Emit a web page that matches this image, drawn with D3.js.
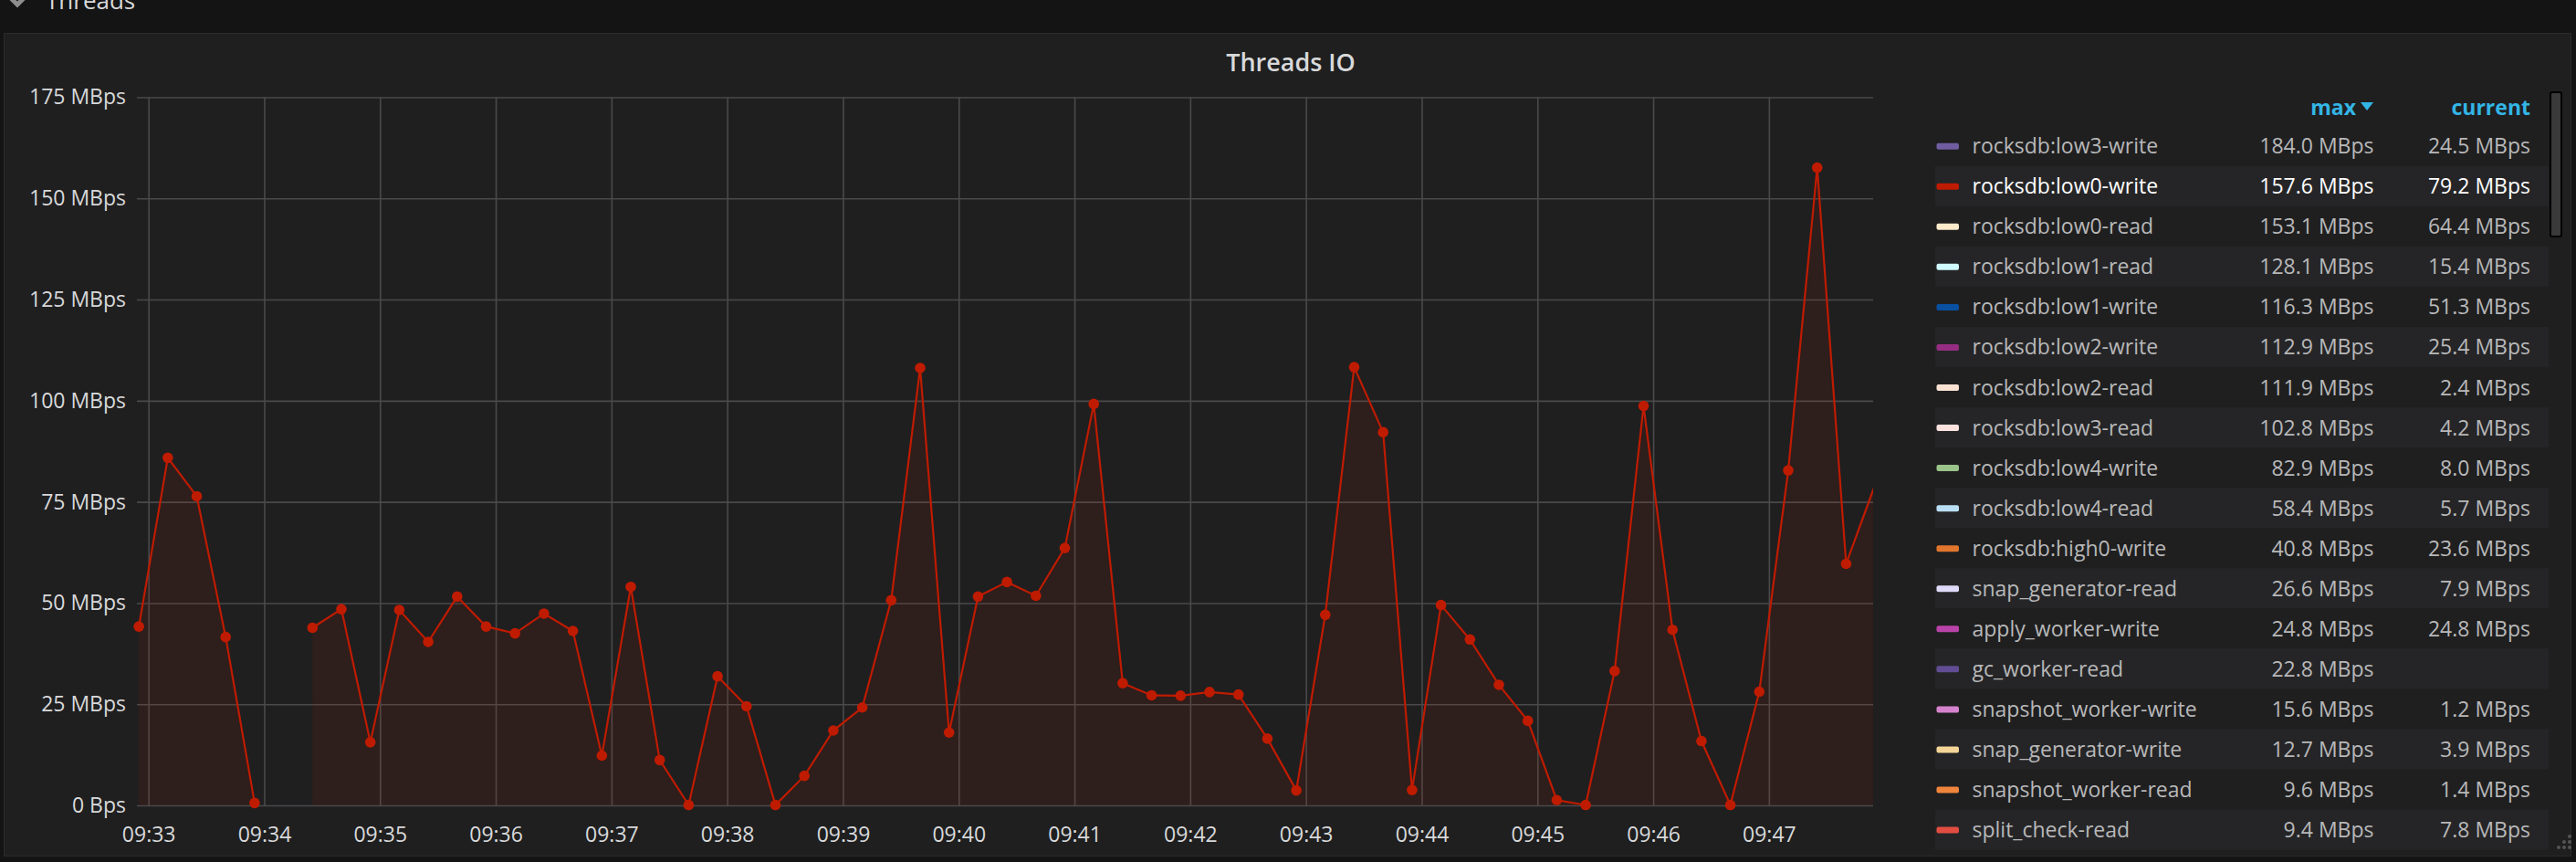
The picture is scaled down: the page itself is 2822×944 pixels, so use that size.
<!DOCTYPE html>
<html><head><meta charset="utf-8">
<script src="https://cdn.jsdelivr.net/npm/d3@7/dist/d3.min.js"></script>
<style>
body{margin:0;background:#141414;}
svg{display:block;font-family:"Open Sans",sans-serif;}
</style>
</head><body>
<svg id="c" width="2822" height="944"></svg>
<script>
// ---- data ----
const times = ["09:32:55","09:33:10","09:33:25","09:33:40","09:33:55","09:34:10","09:34:25","09:34:40","09:34:55","09:35:10",
"09:35:25","09:35:40","09:35:55","09:36:10","09:36:25","09:36:40","09:36:55","09:37:10","09:37:25","09:37:40",
"09:37:55","09:38:10","09:38:25","09:38:40","09:38:55","09:39:10","09:39:25","09:39:40","09:39:55","09:40:10",
"09:40:25","09:40:40","09:40:55","09:41:10","09:41:25","09:41:40","09:41:55","09:42:10","09:42:25","09:42:40",
"09:42:55","09:43:10","09:43:25","09:43:40","09:43:55","09:44:10","09:44:25","09:44:40","09:44:55","09:45:10",
"09:45:25","09:45:40","09:45:55","09:46:10","09:46:25","09:46:40","09:46:55","09:47:10","09:47:25","09:47:40","09:47:55"];
const low0Write = [44.2,85.9,76.4,41.6,0.6,null,43.9,48.5,15.6,48.3,
40.4,51.6,44.2,42.5,47.4,43.1,12.3,54.0,11.2,0.1,
31.9,24.5,0.1,7.3,18.5,24.2,50.7,108.1,18.0,51.6,
55.2,51.8,63.6,99.2,30.2,27.2,27.1,28.0,27.4,16.5,
3.7,47.1,108.3,92.2,3.8,49.5,41.0,29.8,20.9,1.3,
0.1,33.2,98.7,43.4,15.9,0.1,28.1,82.8,157.6,59.7,79.2];
const xDomain = ["09:32:54","09:47:54"];
const yTickValues = [0,25,50,75,100,125,150,175];
const yTickLabels = ["0 Bps","25 MBps","50 MBps","75 MBps","100 MBps","125 MBps","150 MBps","175 MBps"];
const seriesNames = ["rocksdb:low3-write","rocksdb:low0-write","rocksdb:low0-read","rocksdb:low1-read","rocksdb:low1-write",
"rocksdb:low2-write","rocksdb:low2-read","rocksdb:low3-read","rocksdb:low4-write","rocksdb:low4-read","rocksdb:high0-write",
"snap_generator-read","apply_worker-write","gc_worker-read","snapshot_worker-write","snap_generator-write","snapshot_worker-read","split_check-read"];
const seriesColors = ["#705da0","#bf1b00","#fceaca","#cffaff","#0a50a1","#962d82","#f9e2d2","#fce2de","#9ac48a","#badff4","#e0752d",
"#dedaf7","#ba43a9","#614d93","#d683ce","#f4d598","#ef843c","#e24d42"];
const maxValues = ["184.0 MBps","157.6 MBps","153.1 MBps","128.1 MBps","116.3 MBps","112.9 MBps","111.9 MBps","102.8 MBps","82.9 MBps",
"58.4 MBps","40.8 MBps","26.6 MBps","24.8 MBps","22.8 MBps","15.6 MBps","12.7 MBps","9.6 MBps","9.4 MBps"];
const currentValues = ["24.5 MBps","79.2 MBps","64.4 MBps","15.4 MBps","51.3 MBps","25.4 MBps","2.4 MBps","4.2 MBps","8.0 MBps",
"5.7 MBps","23.6 MBps","7.9 MBps","24.8 MBps","","1.2 MBps","3.9 MBps","1.4 MBps","7.8 MBps"];
const shownSeries = "rocksdb:low0-write";

// ---- drawing ----
const svg = d3.select("#c");
const parse = d3.timeParse("%H:%M:%S");
const L = 150, R = 2052, T = 106.5, B = 882;

// page header
svg.append("path").attr("d","M11,-3 L19,5 L27,-3").attr("fill","none").attr("stroke","#8e8e8e").attr("stroke-width",5);
svg.append("text").attr("x",50).attr("y",10).attr("font-size",26).attr("fill","#d8d9da").text("Threads");

// panel
svg.append("rect").attr("x",4.5).attr("y",36.5).attr("width",2812).attr("height",901)
  .attr("fill","#1f1f20").attr("stroke","#2b2b2d").attr("stroke-width",1);

svg.append("text").attr("x",1414).attr("y",78).attr("text-anchor","middle")
  .attr("font-size",27).attr("font-weight",600).attr("fill","#d8d9da").text("Threads IO");

const x = d3.scaleTime().domain(xDomain.map(parse)).range([L, R]);
const y = d3.scaleLinear().domain([0,175]).range([B, T]);

// grid
const gridColor = "#4a4a4b";
const yAxis = d3.axisLeft(y).tickValues(yTickValues).tickFormat((d,i)=>yTickLabels[i]).tickSize(-(R-L)).tickPadding(12);
const gy = svg.append("g").attr("transform",`translate(${L},0)`).call(yAxis);
gy.select(".domain").remove();
gy.selectAll(".tick line").attr("stroke",gridColor).attr("stroke-width",1.6);
gy.selectAll(".tick text").attr("fill","#d8d9da").attr("font-size",23).attr("font-family","Open Sans").attr("x",-12);

const xAxis = d3.axisBottom(x).ticks(d3.timeMinute.every(1)).tickFormat(d3.timeFormat("%H:%M")).tickSize(-(B-T)).tickPadding(10);
const gx = svg.append("g").attr("transform",`translate(0,${B})`).call(xAxis);
gx.select(".domain").remove();
gx.selectAll(".tick line").attr("stroke",gridColor).attr("stroke-width",1.6);
gx.selectAll(".tick text").attr("fill","#d8d9da").attr("font-size",23).attr("font-family","Open Sans").attr("y",24);

// series
const pts = times.map((t,i)=>({t:parse(t), v:low0Write[i]}));
svg.append("clipPath").attr("id","clip").append("rect").attr("x",L).attr("y",0).attr("width",R-L).attr("height",944);
const color = "#bf1b00";
const area = d3.area().defined(d=>d.v!==null).x(d=>x(d.t)).y0(y(0)).y1(d=>y(d.v));
const line = d3.line().defined(d=>d.v!==null).x(d=>x(d.t)).y(d=>y(d.v));
const gs = svg.append("g").attr("clip-path","url(#clip)");
gs.append("path").datum(pts).attr("d",area).attr("fill",color).attr("fill-opacity",0.1);
gs.append("path").datum(pts).attr("d",line).attr("fill","none").attr("stroke",color).attr("stroke-width",2.2);
svg.append("g").selectAll("circle").data(pts.filter(d=>d.v!==null && x(d.t)>=L-3 && x(d.t)<=R))
  .join("circle").attr("cx",d=>x(d.t)).attr("cy",d=>y(d.v)).attr("r",5.8).attr("fill",color);

// legend
const lg = svg.append("g");
const rowY0 = 159.7, rowH = 44.05;
lg.append("text").attr("x",2581).attr("y",126).attr("text-anchor","end").attr("font-size",23).attr("font-weight",700).attr("fill","#33b5e5").text("max");
lg.append("path").attr("d","M2586,112 L2600,112 L2593,121 Z").attr("fill","#33b5e5");
lg.append("text").attr("x",2772).attr("y",126).attr("text-anchor","end").attr("font-size",23).attr("font-weight",700).attr("fill","#33b5e5").text("current");
seriesNames.forEach((name,i)=>{
  const cy = rowY0 + i*rowH;
  const on = name===shownSeries;
  if(i%2===1) lg.append("rect").attr("x",2120).attr("y",cy-rowH/2).attr("width",672).attr("height",rowH).attr("fill","#252527");
  lg.append("rect").attr("x",2121.5).attr("y",cy-3).attr("width",24.5).attr("height",7).attr("rx",2).attr("fill",seriesColors[i]);
  const tc = on ? "#ffffff" : "#b8b8b9";
  lg.append("text").attr("x",2160.5).attr("y",cy+8.5).attr("font-size",23).attr("fill",tc).text(name);
  lg.append("text").attr("x",2600.5).attr("y",cy+8.5).attr("text-anchor","end").attr("font-size",23).attr("fill",tc).text(maxValues[i]);
  lg.append("text").attr("x",2772).attr("y",cy+8.5).attr("text-anchor","end").attr("font-size",23).attr("fill",tc).text(currentValues[i]);
});
// scrollbar
lg.append("rect").attr("x",2794).attr("y",101).attr("width",12).attr("height",158).attr("rx",2)
  .attr("fill","#3a3a3b").attr("stroke","#000").attr("stroke-width",2);
// resize handle
[[2815,916],[2809,922],[2815,922],[2803,928],[2809,928],[2815,928]].forEach(p=>{
  lg.append("circle").attr("cx",p[0]).attr("cy",p[1]).attr("r",2).attr("fill","#555");
});
</script>
</body></html>
